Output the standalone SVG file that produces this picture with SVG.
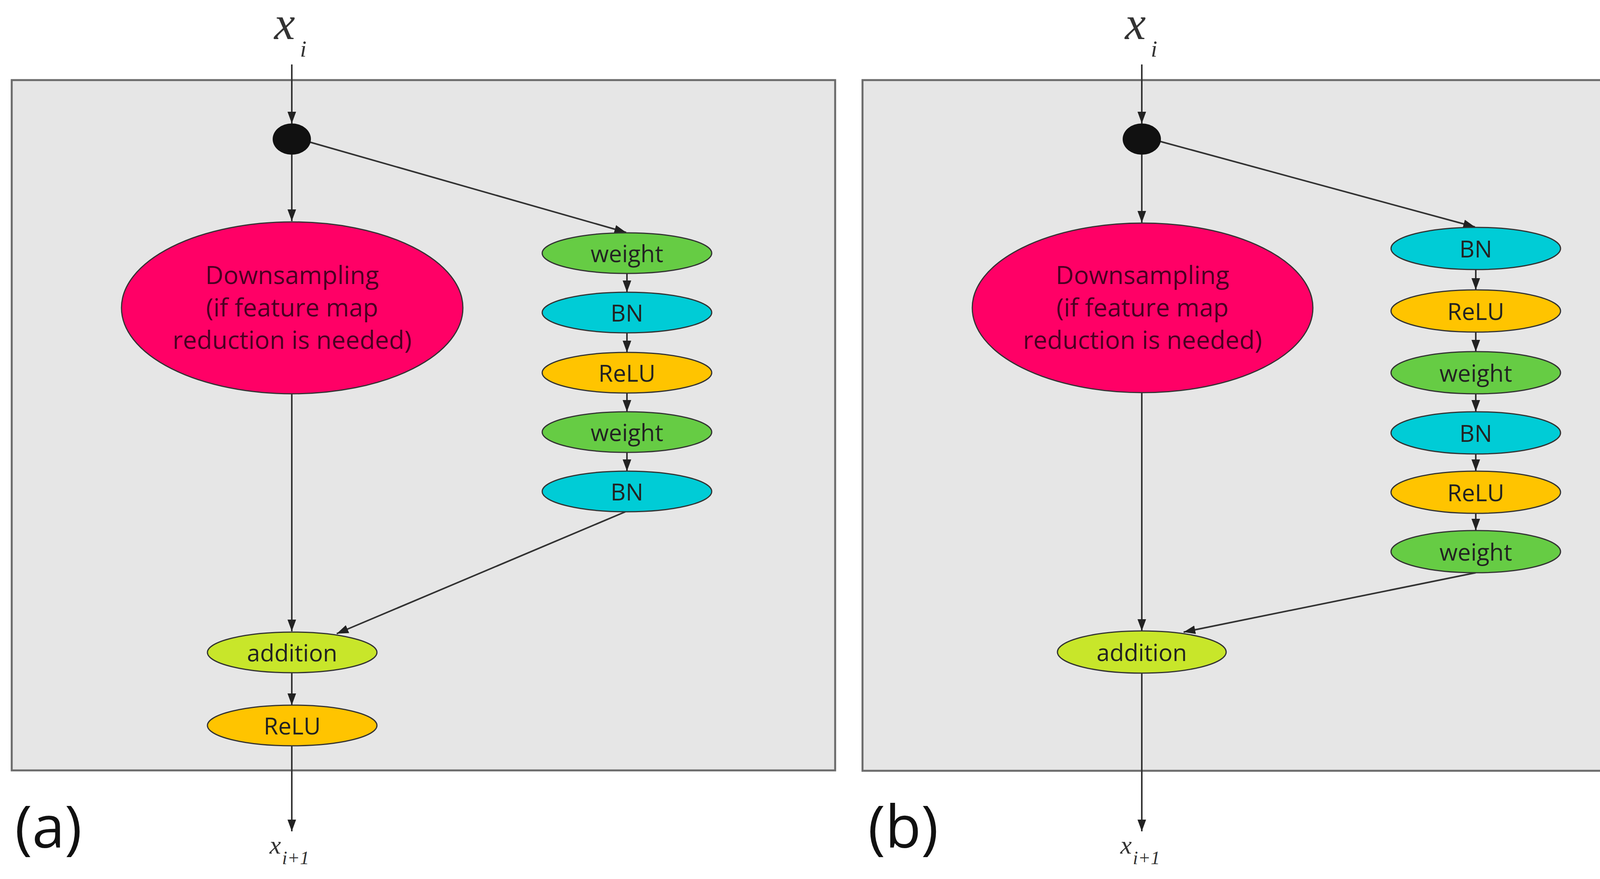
<svg xmlns="http://www.w3.org/2000/svg" width="4346" height="2250" viewBox="0 0 4346 2250">
<style>
.panel{fill:#e6e6e6;stroke:#6b6b6b;stroke-width:5}
.n{stroke:#333;stroke-width:3}
.t{font-family:"Open Sans","Noto Sans",sans-serif;font-size:60px;fill:#222;text-anchor:middle;dominant-baseline:central}
.dt{font-family:"Open Sans","Noto Sans",sans-serif;font-size:64px;fill:#4a0022;text-anchor:middle}
.c{stroke:#333;stroke-width:4;fill:none;marker-end:url(#ah)}
.x{font-family:"Liberation Serif",serif;font-style:italic;fill:#333}
.lab{font-family:"Open Sans","Noto Sans",sans-serif;font-size:150px;fill:#111}
.pink{fill:#ff0066}.green{fill:#66cc44}.cyan{fill:#00ccd6}.orange{fill:#ffc400}.lime{fill:#c8e62a}
</style>
<defs>
<marker id="ah" markerUnits="userSpaceOnUse" markerWidth="30" markerHeight="30" viewBox="0 0 30 30" refX="30" refY="15" orient="auto">
<path d="M0,4 L30,15 L0,26 Z" fill="#222"/>
</marker>
</defs>
<rect class="panel" x="30" y="205" width="2108" height="1767"/>
<rect class="panel" x="2208" y="205" width="2106" height="1768"/>
<g id="labels">
<text class="lab" x="38" y="2170">(a)</text>
<text class="lab" x="2222" y="2170">(b)</text>
<text class="x" x="702" y="100" font-size="120">x</text><text class="x" x="768" y="145" font-size="60">i</text>
<text class="x" x="2880" y="100" font-size="120">x</text><text class="x" x="2946" y="145" font-size="60">i</text>
<text class="x" x="690" y="2185" font-size="66">x</text><text class="x" x="722" y="2212" font-size="48">i+1</text>
<text class="x" x="2868" y="2185" font-size="66">x</text><text class="x" x="2900" y="2212" font-size="48">i+1</text>
</g>
<g id="connectors">
<line class="c" x1="747" y1="165" x2="747" y2="316"/>
<line class="c" x1="747" y1="396" x2="747" y2="566"/>
<line class="c" x1="794" y1="364" x2="1603" y2="595"/>
<line class="c" x1="1605" y1="700" x2="1605" y2="748"/>
<line class="c" x1="1605" y1="852" x2="1605" y2="902"/>
<line class="c" x1="1605" y1="1006" x2="1605" y2="1054"/>
<line class="c" x1="1605" y1="1158" x2="1605" y2="1206"/>
<line class="c" x1="747" y1="1008" x2="747" y2="1616"/>
<line class="c" x1="1601" y1="1310" x2="862" y2="1622"/>
<line class="c" x1="747" y1="1722" x2="747" y2="1805"/>
<line class="c" x1="747" y1="1909" x2="747" y2="2128"/>
<line class="c" x1="2923" y1="165" x2="2923" y2="316"/>
<line class="c" x1="2923" y1="396" x2="2923" y2="570"/>
<line class="c" x1="2970" y1="362" x2="3776" y2="581"/>
<line class="c" x1="3778" y1="690" x2="3778" y2="742"/>
<line class="c" x1="3778" y1="850" x2="3778" y2="900"/>
<line class="c" x1="3778" y1="1008" x2="3778" y2="1054"/>
<line class="c" x1="3778" y1="1162" x2="3778" y2="1206"/>
<line class="c" x1="3778" y1="1314" x2="3778" y2="1358"/>
<line class="c" x1="2923" y1="1005" x2="2923" y2="1615"/>
<line class="c" x1="3778" y1="1466" x2="3030" y2="1618"/>
<line class="c" x1="2923" y1="1723" x2="2923" y2="2128"/>
</g>
<g id="a-split"><ellipse cx="747" cy="356" rx="49" ry="40" fill="#111"/></g>
<g id="a-down"><ellipse class="n pink" cx="748" cy="788" rx="437" ry="220"/>
<text class="dt" x="748" y="727">Downsampling</text><text class="dt" x="748" y="810">(if feature map</text><text class="dt" x="748" y="893">reduction is needed)</text></g>
<g id="a-w1"><ellipse class="n green" cx="1605" cy="648" rx="217" ry="52"/><text class="t" x="1605" y="648">weight</text></g>
<g id="a-bn1"><ellipse class="n cyan" cx="1605" cy="800" rx="217" ry="52"/><text class="t" x="1605" y="800">BN</text></g>
<g id="a-relu1"><ellipse class="n orange" cx="1605" cy="954" rx="217" ry="52"/><text class="t" x="1605" y="954">ReLU</text></g>
<g id="a-w2"><ellipse class="n green" cx="1605" cy="1106" rx="217" ry="52"/><text class="t" x="1605" y="1106">weight</text></g>
<g id="a-bn2"><ellipse class="n cyan" cx="1605" cy="1258" rx="217" ry="52"/><text class="t" x="1605" y="1258">BN</text></g>
<g id="a-add"><ellipse class="n lime" cx="748" cy="1670" rx="217" ry="52"/><text class="t" x="748" y="1670">addition</text></g>
<g id="a-relu"><ellipse class="n orange" cx="748" cy="1857" rx="217" ry="52"/><text class="t" x="748" y="1857">ReLU</text></g>
<g id="b-split"><ellipse cx="2923" cy="356" rx="49" ry="40" fill="#111"/></g>
<g id="b-down"><ellipse class="n pink" cx="2925" cy="788" rx="436" ry="217"/>
<text class="dt" x="2925" y="727">Downsampling</text><text class="dt" x="2925" y="810">(if feature map</text><text class="dt" x="2925" y="893">reduction is needed)</text></g>
<g id="b-bn1"><ellipse class="n cyan" cx="3778" cy="636" rx="217" ry="54"/><text class="t" x="3778" y="636">BN</text></g>
<g id="b-relu1"><ellipse class="n orange" cx="3778" cy="796" rx="217" ry="54"/><text class="t" x="3778" y="796">ReLU</text></g>
<g id="b-w1"><ellipse class="n green" cx="3778" cy="954" rx="217" ry="54"/><text class="t" x="3778" y="954">weight</text></g>
<g id="b-bn2"><ellipse class="n cyan" cx="3778" cy="1108" rx="217" ry="54"/><text class="t" x="3778" y="1108">BN</text></g>
<g id="b-relu2"><ellipse class="n orange" cx="3778" cy="1260" rx="217" ry="54"/><text class="t" x="3778" y="1260">ReLU</text></g>
<g id="b-w2"><ellipse class="n green" cx="3778" cy="1412" rx="217" ry="54"/><text class="t" x="3778" y="1412">weight</text></g>
<g id="b-add"><ellipse class="n lime" cx="2923" cy="1669" rx="216" ry="54"/><text class="t" x="2923" y="1669">addition</text></g>
</svg>
